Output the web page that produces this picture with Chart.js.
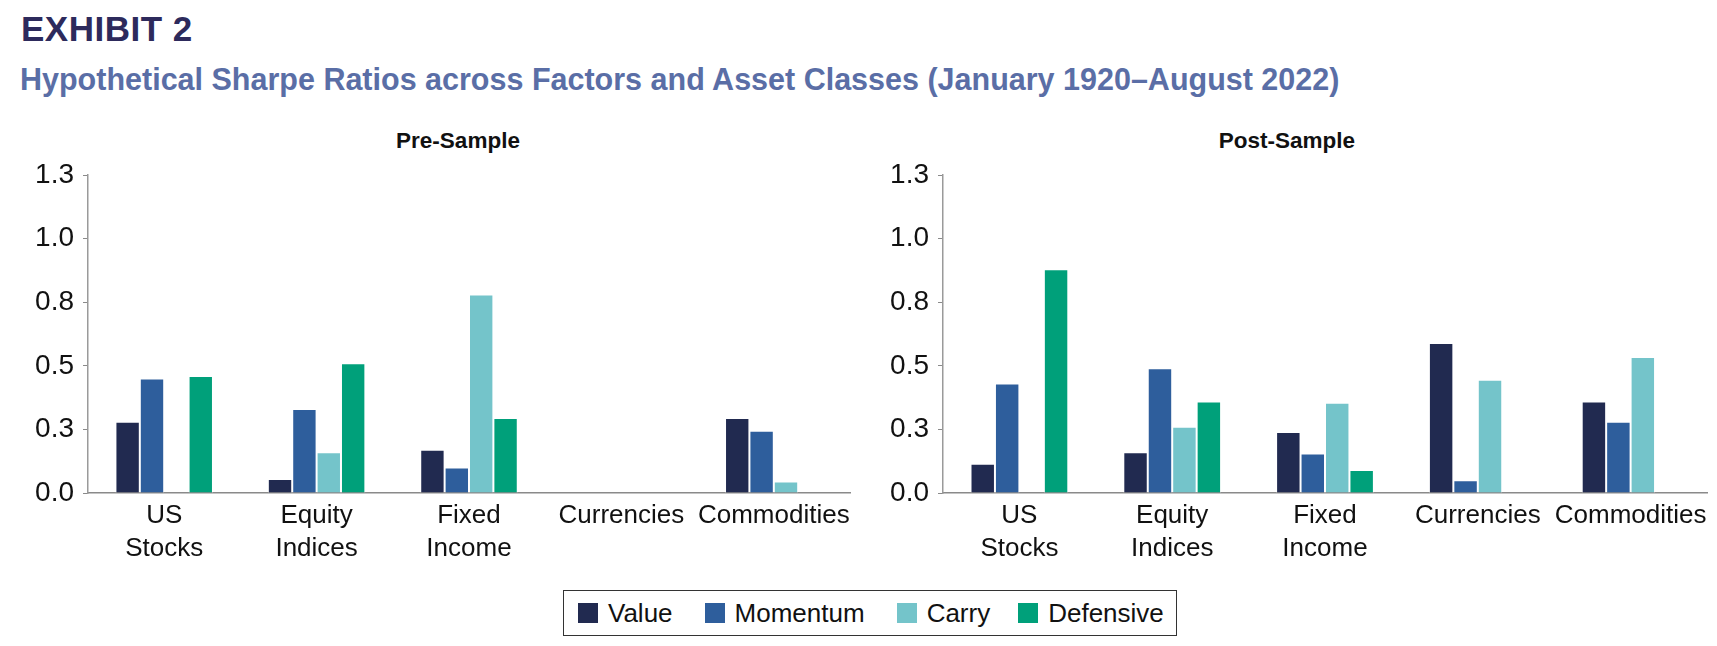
<!DOCTYPE html>
<html>
<head>
<meta charset="utf-8">
<script src="https://cdn.jsdelivr.net/npm/chart.js@4/dist/chart.umd.min.js"></script>
<style>
  body { margin: 0; background: #fff; width: 1717px; height: 646px; position: relative; overflow: hidden; font-family: "Liberation Sans", Arial, sans-serif; }
  #exhibit { position: absolute; left: 21px; top: 9px; font-size: 35px; font-weight: bold; color: #2d2a5c; letter-spacing: 0.5px; }
  #subtitle { position: absolute; left: 20px; top: 62px; font-size: 30.5px; font-weight: bold; color: #5a6ea6; }
  .ptitle { position: absolute; top: 128px; width: 300px; margin-left: -150px; text-align: center; font-size: 22.5px; font-weight: bold; color: #111; }
  .wrap { position: absolute; top: 120px; height: 450px; }
  #legend { position: absolute; left: 563px; top: 590px; width: 612px; height: 44px; border: 1.5px solid #333; display: flex; align-items: center; box-sizing: content-box; }
  .item { display: flex; align-items: center; font-size: 26px; color: #111; white-space: nowrap; }
  .swatch { width: 20px; height: 20px; margin-right: 10px; }
</style>
</head>
<body>
<div id="exhibit">EXHIBIT 2</div>
<div id="subtitle">Hypothetical Sharpe Ratios across Factors and Asset Classes (January 1920–August 2022)</div>
<div class="ptitle" style="left:458px">Pre-Sample</div>
<div class="ptitle" style="left:1287px">Post-Sample</div>
<div class="wrap" style="left:0;width:860px"><canvas id="pre"></canvas></div>
<div class="wrap" style="left:855px;width:862px"><canvas id="post"></canvas></div>
<div id="legend"></div>
<script>
// categories and series
const categories = [['US', 'Stocks'], ['Equity', 'Indices'], ['Fixed', 'Income'], 'Currencies', 'Commodities'];
const factors = ['Value', 'Momentum', 'Carry', 'Defensive'];
const colors = ['#212a50', '#2e5e9c', '#74c4ca', '#00a07a'];
const yTicks = [0, 0.25, 0.5, 0.75, 1.0, 1.25];

// Pre-Sample values
const preValue     = [0.28, 0.055, 0.17, null, 0.295];
const preMomentum  = [0.45, 0.33, 0.10, null, 0.245];
const preCarry     = [null, 0.16, 0.78, null, 0.045];
const preDefensive = [0.46, 0.51, 0.295, null, null];

// Post-Sample values
const postValue     = [0.115, 0.16, 0.24, 0.59, 0.36];
const postMomentum  = [0.43, 0.49, 0.155, 0.05, 0.28];
const postCarry     = [null, 0.26, 0.355, 0.445, 0.535];
const postDefensive = [0.88, 0.36, 0.09, null, null];

function makeChart(id, series) {
  const ctx = document.getElementById(id).getContext('2d');
  return new Chart(ctx, {
    type: 'bar',
    data: {
      labels: categories,
      datasets: series.map((d, i) => ({
        label: factors[i],
        data: d,
        backgroundColor: colors[i],
        borderColor: '#ffffff',
        borderWidth: 1,
        barPercentage: 1,
        categoryPercentage: 0.64
      }))
    },
    options: {
      responsive: false,
      animation: false,
      layout: { padding: { left: 0, right: 10, top: 55, bottom: 0 } },
      plugins: {
        legend: { display: false },
        tooltip: { enabled: false },
        title: { display: false }
      },
      scales: {
        x: {
          grid: { display: false, drawTicks: false },
          border: { display: true, color: '#8a8a8a', width: 1.5 },
          ticks: {
            color: '#111',
            font: { family: 'Liberation Sans', size: 26, lineHeight: 1.25 },
            padding: 7,
            maxRotation: 0,
            autoSkip: false
          },
          afterFit: (s) => { s.height = 77; }
        },
        y: {
          min: 0,
          max: 1.25,
          afterBuildTicks: (s) => { s.ticks = yTicks.map(v => ({ value: v })); },
          grid: { display: true, drawOnChartArea: false, tickLength: 5, color: '#8a8a8a' },
          border: { display: true, color: '#9a9a9a', width: 1.5 },
          ticks: {
            color: '#111',
            font: { family: 'Liberation Sans', size: 28 },
            padding: 9,
            callback: (v) => Number(v).toFixed(1)
          },
          afterFit: (s) => { s.width = 88; }
        }
      }
    }
  });
}

document.getElementById('pre').width = 860;
document.getElementById('pre').height = 450;
document.getElementById('post').width = 862;
document.getElementById('post').height = 450;

makeChart('pre', [preValue, preMomentum, preCarry, preDefensive]);
makeChart('post', [postValue, postMomentum, postCarry, postDefensive]);

// legend built from the same arrays
const legend = document.getElementById('legend');
const gaps = [14, 32, 32, 28];
factors.forEach((f, i) => {
  const item = document.createElement('div');
  item.className = 'item';
  item.style.marginLeft = gaps[i] + 'px';
  item.innerHTML = '<span class="swatch" style="background:' + colors[i] + '"></span>' + f;
  legend.appendChild(item);
});
</script>
</body>
</html>
